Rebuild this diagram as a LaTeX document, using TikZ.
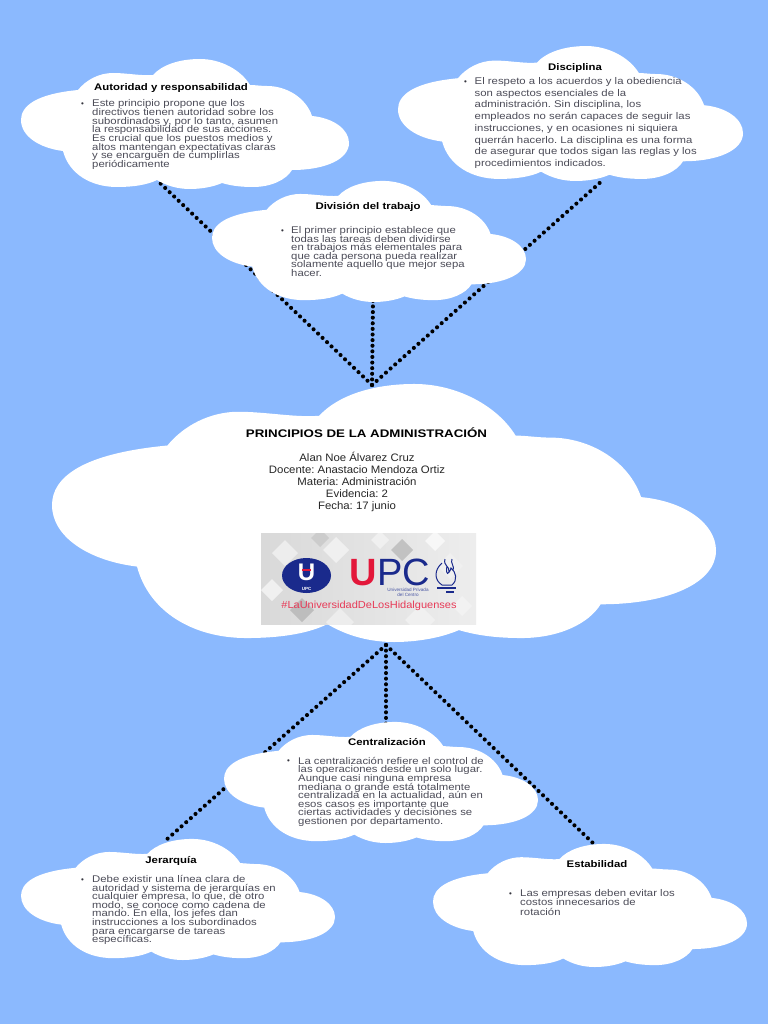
\documentclass[tikz,border=0pt]{standalone}
\usepackage{fontspec}
\setmainfont{Liberation Sans}
\newfontfamily\bodyf[FakeStretch=1.17]{Liberation Sans}
\newfontfamily\titlef[FakeStretch=1.185]{Liberation Sans}
\newfontfamily\headf[FakeStretch=1.21]{Liberation Sans}
\newfontfamily\mainf[FakeStretch=1.055]{Liberation Sans}
\newfontfamily\tagf[FakeStretch=1.07]{Liberation Sans}
\usetikzlibrary{shapes.geometric,calc}
\definecolor{bgblue}{HTML}{8BB9FE}
\definecolor{bodygray}{HTML}{4C4C58}
\definecolor{upcblue}{HTML}{1A2A8C}
\definecolor{upcred}{HTML}{E3173A}
\frenchspacing
\normallineskiplimit=-20pt
\lineskiplimit=-20pt
\tikzset{
  x=1pt,y=-1pt,
  link/.style={line width=4.1pt,line cap=round,dash pattern=on 0.01pt off 6.2pt,black},
  vlink/.style={link,dash pattern=on 0.01pt off 5.6pt},
  cloudtitle/.style={font=\titlef\fontsize{9.6}{11}\selectfont\bfseries,text=black,inner sep=0pt,anchor=center},
  bodytxt/.style={text=bodygray,inner sep=0pt,anchor=north west,align=left},
  bulletmark/.style={text=bodygray!70!black,inner sep=0pt,font=\fontsize{8}{8}\selectfont,anchor=center},
}
\newcommand{\mycloud}[5]{%
  \begin{scope}[shift={(#2,#3)},x=#4pt/328,y=-#5pt/131]
  \fill[white] (57,32) .. controls (15,36) and (0,48) .. (0,62)
   .. controls (0,78) and (18,90) .. (42,93)
   .. controls (48,116) and (70,129) .. (96,129)
   .. controls (112,129) and (126,127) .. (136,122)
   .. controls (146,128) and (157,131) .. (169,131)
   .. controls (180,131) and (192,129) .. (201,125)
   .. controls (211,128) and (221,129) .. (232,129)
   .. controls (250,129) and (265,122) .. (271,112)
   .. controls (305,112) and (328,101) .. (328,85)
   .. controls (328,71) and (312,60) .. (291,58)
   .. controls (285,40) and (266,28) .. (246,28)
   .. controls (240,28) and (234,27) .. (229,27)
   .. controls (220,12) and (200,1) .. (179,1)
   .. controls (158,1) and (141,7) .. (132,17)
   .. controls (120,18) and (106,15) .. (92,15)
   .. controls (78,15) and (65,22) .. (57,32) -- cycle;
  \end{scope}
  \node[minimum width=#4pt,minimum height=#5pt,inner sep=0pt,anchor=north west] (#1) at (#2,#3) {};%
}
\newcommand{\bodyblock}[7]{% name,x,y,bulletx,size,leading,text
  \node[bulletmark] (#1b) at (#4,#3+5) {•};
  \node[bodytxt,font=\bodyf\fontsize{#5}{#6}\selectfont] (#1t) at (#2,#3) {#7};
}
\begin{document}
\begin{tikzpicture}
\useasboundingbox (0,0) rectangle (768,1024);
\fill[bgblue] (0,0) rectangle (768,1024);
% connector ends
\coordinate (hubTop) at (372,385);
\coordinate (hubBot) at (386,645);
\coordinate (endAut) at (160,183);
\coordinate (endDis) at (603,180);
\coordinate (endDiv) at (373,300);
\coordinate (endCen) at (386,725);
\coordinate (endJer) at (165,841);
\coordinate (endEst) at (595,845);
\draw[link] (hubTop) -- (endAut);
\draw[link] (hubTop) -- (endDis);
\draw[vlink] (hubTop) -- (endDiv);
\draw[vlink] (hubBot) -- (endCen);
\draw[link] (hubBot) -- (endJer);
\draw[link] (hubBot) -- (endEst);
% clouds
\mycloud{aut}{21}{58}{328}{131}
\mycloud{dis}{398}{45}{345}{136}
\mycloud{div}{212}{180}{314}{122}
\mycloud{main}{52}{382}{664}{260}
\mycloud{cen}{224}{721}{314}{122}
\mycloud{jer}{21}{838}{314}{122}
\mycloud{est}{433}{843}{314}{124}
% titles
\node[cloudtitle] (autT) at (171,88) {Autoridad y responsabilidad};
\node[cloudtitle] (disT) at (575,68.5) {Disciplina};
\node[cloudtitle] (divT) at (368,206.5) {División del trabajo};
\node[cloudtitle] (cenT) at (387,742.5) {Centralización};
\node[cloudtitle] (jerT) at (171,860.5) {Jerarquía};
\node[cloudtitle] (estT) at (597,864.5) {Estabilidad};
% bodies
\bodyblock{aut}{92}{99.7}{82.5}{9.7}{8.65}{Este principio propone que los\\directivos tienen autoridad sobre los\\subordinados y, por lo tanto, asumen\\la responsabilidad de sus acciones.\\Es crucial que los puestos medios y\\altos mantengan expectativas claras\\y se encarguen de cumplirlas\\periódicamente}
\bodyblock{dis}{474.5}{77.2}{465.5}{9.7}{11.75}{El respeto a los acuerdos y la obediencia\\son aspectos esenciales de la\\administración. Sin disciplina, los\\empleados no serán capaces de seguir las\\instrucciones, y en ocasiones ni siquiera\\querrán hacerlo. La disciplina es una forma\\de asegurar que todos sigan las reglas y los\\procedimientos indicados.}
\bodyblock{div}{291}{226.2}{282.5}{9.7}{8.6}{El primer principio establece que\\todas las tareas deben dividirse\\en trabajos más elementales para\\que cada persona pueda realizar\\solamente aquello que mejor sepa\\hacer.}
\bodyblock{cen}{298}{756.7}{288.5}{9.7}{8.65}{La centralización refiere el control de\\las operaciones desde un solo lugar.\\Aunque casi ninguna empresa\\mediana o grande está totalmente\\centralizada en la actualidad, aún en\\esos casos es importante que\\ciertas actividades y decisiones se\\gestionen por departamento.}
\bodyblock{jer}{92}{875.2}{82.5}{9.7}{8.6}{Debe existir una línea clara de\\autoridad y sistema de jerarquías en\\cualquier empresa, lo que, de otro\\modo, se conoce como cadena de\\mando. En ella, los jefes dan\\instrucciones a los subordinados\\para encargarse de tareas\\específicas.}
\bodyblock{est}{520}{889.2}{510.5}{9.7}{9.3}{Las empresas deben evitar los\\costos innecesarios de\\rotación}
% main text
\node[font=\headf\fontsize{11}{13}\selectfont\bfseries,text=black,inner sep=0pt] (mainT) at (366.5,432.5) {PRINCIPIOS DE LA ADMINISTRACIÓN};
\node[font=\mainf\fontsize{10.8}{12}\selectfont,text=black!85,inner sep=0pt,align=center,anchor=north] (mainB) at (357,452) {Alan Noe Álvarez Cruz\\Docente: Anastacio Mendoza Ortiz\\Materia: Administración\\Evidencia: 2\\Fecha: 17 junio};
% logo
\node[minimum width=215pt,minimum height=91pt,inner sep=0pt,anchor=north west,left color=black!15,right color=black!7] (logo) at (261,533) {};
\begin{scope}
\clip (261,533) rectangle (476,624);
\foreach \cx/\cy/\sz/\col in {336/550/13/black!6,402/550/11/black!24,435/541/10/black!3,285/553/13/black!7,450/566/13/black!6,272/590/11/black!6,302/610/12/black!26,340/622/14/black!7,420/620/15/black!6,462/606/10/black!5,380/540/9/black!6,320/538/9/black!20}{
  \fill[\col] (\cx-\sz,\cy) -- (\cx,\cy-\sz) -- (\cx+\sz,\cy) -- (\cx,\cy+\sz) -- cycle;
}
\end{scope}
\node[ellipse,minimum width=49pt,minimum height=35pt,inner sep=0pt,fill=upcblue] (seal) at (306.5,575.5) {};
\node[inner sep=0pt,text=white,font=\fontsize{24}{24}\selectfont\bfseries] (sealU) at (306.5,572) {U};
\fill[upcred] (302,569) rectangle (311,571);
\node[inner sep=0pt,text=white,font=\fontsize{4.5}{5}\selectfont\bfseries] (sealT) at (306.5,588.5) {UPC};
\node[inner sep=0pt,font=\fontsize{38}{30}\selectfont,anchor=base west] (upc) at (349.5,585) {\textcolor{upcred}{\bfseries U}\textcolor{upcblue}{PC}};
\node[inner sep=0pt,text=upcblue!80,align=center,font=\fontsize{4.6}{5}\selectfont] (upcSub) at (408,592) {Universidad Privada\\del Centro};
\draw[upcblue,line width=1pt] (442,563) .. controls (434,570) and (434,580) .. (442,585) -- (452,585) .. controls (458,580) and (456,572) .. (451,568) .. controls (449,575) and (445,576) .. (447,566) (445,559) .. controls (443,566) and (450,566) .. (449,572) (452,559) .. controls (450,563) and (455,566) .. (453,571);
\draw[upcblue,line width=1.2pt] (437,588) -- (456,588) (446,592) -- (454,592);
\node[inner sep=0pt,text=upcred!85,font=\tagf\fontsize{10.3}{11}\selectfont] (tag) at (369,606) {\#LaUniversidadDeLosHidalguenses};
\end{tikzpicture}
\end{document}
